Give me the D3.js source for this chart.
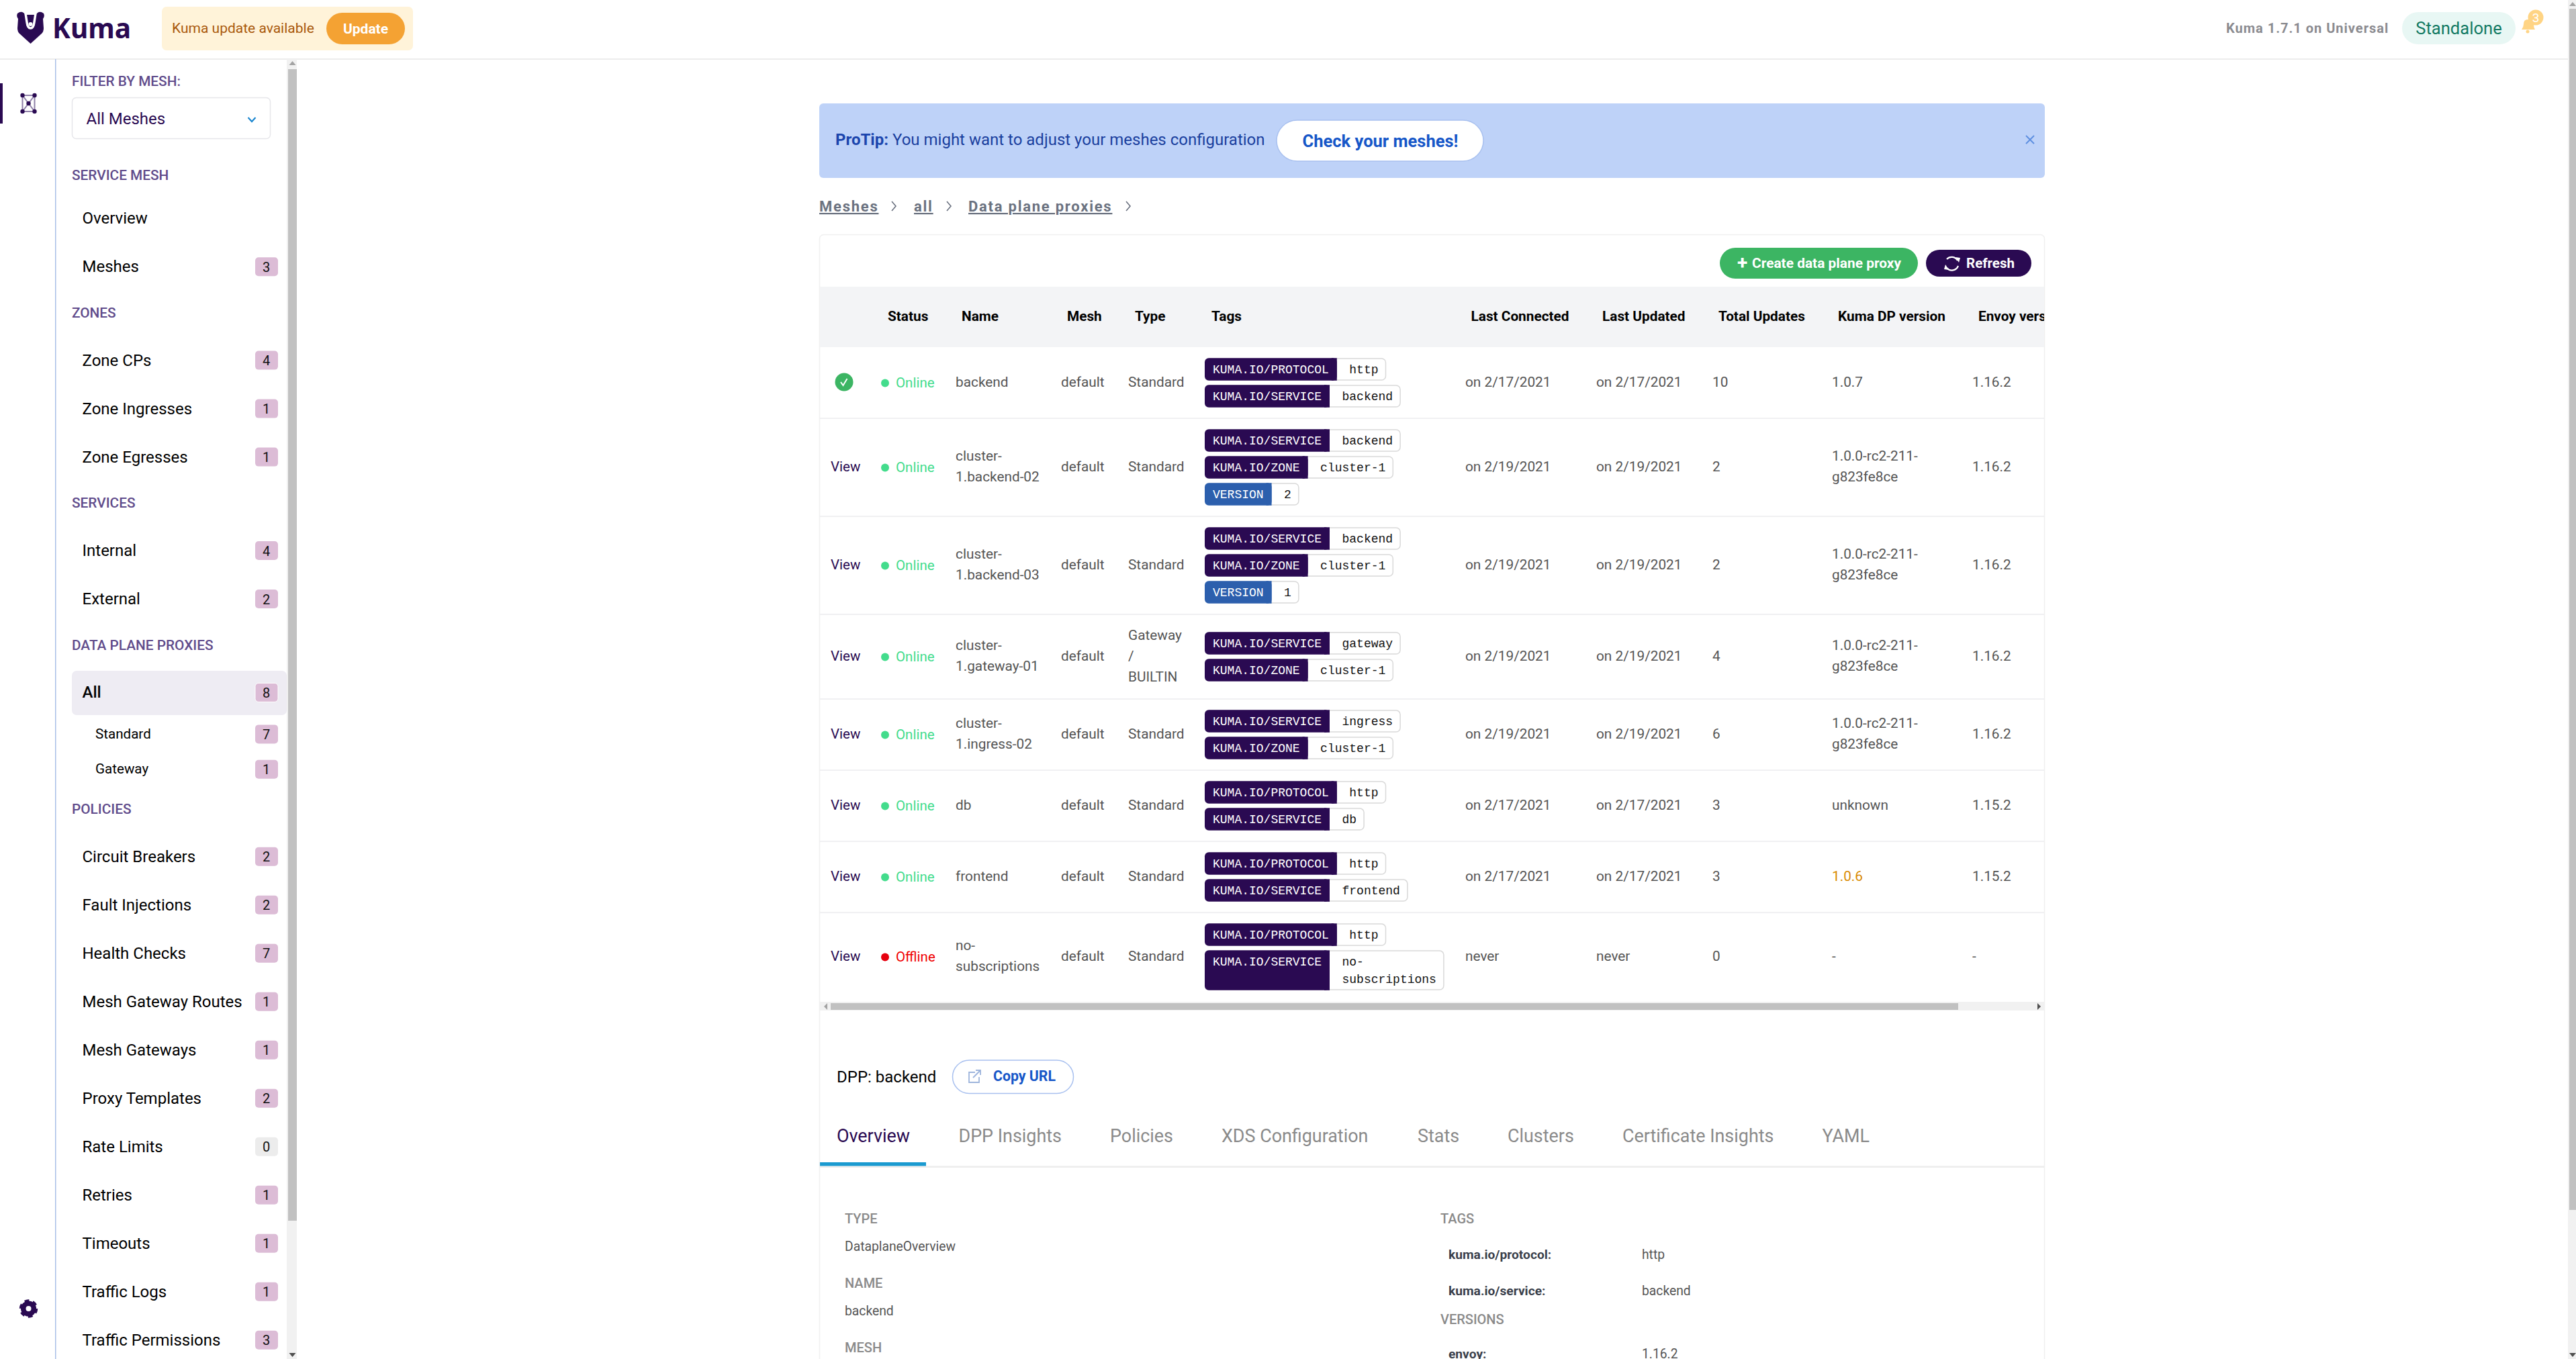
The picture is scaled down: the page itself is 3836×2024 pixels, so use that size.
<!DOCTYPE html>
<html>
<head>
<meta charset="utf-8">
<script src="https://cdnjs.cloudflare.com/ajax/libs/d3/7.8.5/d3.min.js"></script>
<style>
html,body{margin:0;padding:0;background:#fff;overflow:hidden}
svg{display:block}
text{font-family:Roboto,sans-serif;white-space:pre}
</style>
</head>
<body>
<div id="chart"></div>
<script>
// ---------- data ----------
const navLabels = ["SERVICE MESH","Overview","Meshes","ZONES","Zone CPs","Zone Ingresses","Zone Egresses","SERVICES","Internal","External","DATA PLANE PROXIES","All","Standard","Gateway","POLICIES","Circuit Breakers","Fault Injections","Health Checks","Mesh Gateway Routes","Mesh Gateways","Proxy Templates","Rate Limits","Retries","Timeouts","Traffic Logs","Traffic Permissions"];
const navKinds = ["section","item","item","section","item","item","item","section","item","item","section","item","sub","sub","section","item","item","item","item","item","item","item","item","item","item","item"];
const navCounts = [null,null,3,null,4,1,1,null,4,2,null,8,7,1,null,2,2,7,1,1,2,0,1,1,1,3];

const colHeaders = ["Status","Name","Mesh","Type","Tags","Last Connected","Last Updated","Total Updates","Kuma DP version","Envoy version"];
const rowActions = ["check","View","View","View","View","View","View","View"];
const rowStatus = ["Online","Online","Online","Online","Online","Online","Online","Offline"];
const rowNames = [["backend"],["cluster-","1.backend-02"],["cluster-","1.backend-03"],["cluster-","1.gateway-01"],["cluster-","1.ingress-02"],["db"],["frontend"],["no-","subscriptions"]];
const rowMesh = ["default","default","default","default","default","default","default","default"];
const rowTypes = [["Standard"],["Standard"],["Standard"],["Gateway","/","BUILTIN"],["Standard"],["Standard"],["Standard"],["Standard"]];
const rowTags = [
  [["KUMA.IO/PROTOCOL",["http"]],["KUMA.IO/SERVICE",["backend"]]],
  [["KUMA.IO/SERVICE",["backend"]],["KUMA.IO/ZONE",["cluster-1"]],["VERSION",["2"]]],
  [["KUMA.IO/SERVICE",["backend"]],["KUMA.IO/ZONE",["cluster-1"]],["VERSION",["1"]]],
  [["KUMA.IO/SERVICE",["gateway"]],["KUMA.IO/ZONE",["cluster-1"]]],
  [["KUMA.IO/SERVICE",["ingress"]],["KUMA.IO/ZONE",["cluster-1"]]],
  [["KUMA.IO/PROTOCOL",["http"]],["KUMA.IO/SERVICE",["db"]]],
  [["KUMA.IO/PROTOCOL",["http"]],["KUMA.IO/SERVICE",["frontend"]]],
  [["KUMA.IO/PROTOCOL",["http"]],["KUMA.IO/SERVICE",["no-","subscriptions"]]]
];
const rowConnected = ["on 2/17/2021","on 2/19/2021","on 2/19/2021","on 2/19/2021","on 2/19/2021","on 2/17/2021","on 2/17/2021","never"];
const rowUpdated = ["on 2/17/2021","on 2/19/2021","on 2/19/2021","on 2/19/2021","on 2/19/2021","on 2/17/2021","on 2/17/2021","never"];
const rowTotals = ["10","2","2","4","6","3","3","0"];
const rowKuma = [["1.0.7"],["1.0.0-rc2-211-","g823fe8ce"],["1.0.0-rc2-211-","g823fe8ce"],["1.0.0-rc2-211-","g823fe8ce"],["1.0.0-rc2-211-","g823fe8ce"],["unknown"],["1.0.6"],["-"]];
const rowEnvoy = ["1.16.2","1.16.2","1.16.2","1.16.2","1.16.2","1.15.2","1.15.2","-"];
const tabLabels = ["Overview","DPP Insights","Policies","XDS Configuration","Stats","Clusters","Certificate Insights","YAML"];
const breadcrumbs = ["Meshes","all","Data plane proxies"];

// ---------- layout ----------
const W = 3836, H = 2024;
const PURPLE = "#2a0a52";
const svg = d3.select("#chart").append("svg").attr("width",W).attr("height",H).attr("viewBox",`0 0 ${W} ${H}`);
const defs = svg.append("defs");
defs.append("clipPath").attr("id","panelClip").append("rect").attr("x",1221).attr("y",340).attr("width",1823).attr("height",1684);

function txt(g,x,y,s,o={}){
  const n = g.append("text").attr("x",x).attr("y",y).text(s)
    .attr("font-size",o.size||20.8).attr("fill",o.fill||"#555")
    .attr("font-weight",o.weight||400);
  if(o.anchor) n.attr("text-anchor",o.anchor);
  if(o.family) n.style("font-family",o.family);
  if(o.spacing) n.attr("letter-spacing",o.spacing);
  if(o.underline) n.attr("text-decoration","underline");
  return n;
}
function box(g,x,y,w,h,o={}){
  return g.append("rect").attr("x",x).attr("y",y).attr("width",w).attr("height",h)
    .attr("rx",o.r||0).attr("fill",o.fill||"none")
    .attr("stroke",o.stroke||"none").attr("stroke-width",o.sw||0);
}
function scrollbarV(g,x,w,y0,y1,t0,t1){
  box(g,x,y0,w,y1-y0,{fill:"#f1f1f1"});
  box(g,x+2,t0,w-2,t1-t0,{fill:"#c1c1c1"});
  const c=x+w/2+1;
  g.append("path").attr("fill","#a3a3a3").attr("d",`M${c-5} ${y0+9}L${c} ${y0+3}L${c+5} ${y0+9}Z`);
  g.append("path").attr("fill","#505050").attr("d",`M${c-5} ${y1-9}L${c} ${y1-3}L${c+5} ${y1-9}Z`);
}

// ---------- header ----------
const head = svg.append("g");
box(head,0,87,W,2,{fill:"#ececec"});
head.append("path").attr("fill",PURPLE).attr("fill-rule","evenodd")
  .attr("d","M26 20Q31 16 35 19L38 22L53 22L56 19Q60 16 65 20Q67 24 64 28L65 42Q65 47 62 50L45.5 65L29 50Q26 47 26 42L27 28Q24 24 26 20Z");
head.append("path").attr("fill","none").attr("stroke","#fff").attr("stroke-width",3.5).attr("d","M38 20L40 33Q41 42 45.5 42Q50 42 51 33L53 20");
head.append("circle").attr("cx",45.5).attr("cy",36).attr("r",3).attr("fill","#fff");
txt(head,78,56.5,"Kuma",{size:40.5,weight:700,fill:PURPLE,family:"'Noto Sans',sans-serif"});
box(head,241,10,374,65,{fill:"#fff3d9",r:7});
txt(head,256,49,"Kuma update available",{size:21,fill:"#a9590c"});
box(head,486,19,117,47,{fill:"#f4a233",r:23.5});
txt(head,544.5,49.5,"Update",{size:21,fill:"#fff",weight:700,anchor:"middle"});
txt(head,3315,49,"Kuma 1.7.1 on Universal",{size:20,fill:"#8b8b90",weight:700,spacing:1});
box(head,3577,18,169,48,{fill:"#e8f7f4",r:24});
txt(head,3661.5,51,"Standalone",{size:25.6,fill:"#137a63",anchor:"middle"});
head.append("path").attr("fill","#ffd484").attr("d","M3755 44Q3758 40 3758 36Q3758 29 3764 29Q3773 29 3773 37Q3773 41 3775 44Z");
head.append("circle").attr("cx",3764).attr("cy",47).attr("r",2.5).attr("fill","#ffd484");
head.append("circle").attr("cx",3776).attr("cy",26).attr("r",11.5).attr("fill","#ffd484");
txt(head,3776,33,"3",{size:19,fill:"#fff",anchor:"middle"});
scrollbarV(head,3824,12,0,H,13,1802);

// ---------- left rail ----------
const rail = svg.append("g");
box(rail,82,88,1.5,H-88,{fill:"#a9bfe8"});
box(rail,0,124,4,60,{fill:PURPLE});
const meshPts = d3.cross([-9,9],[-12,12]).map(([a,b])=>[42.5+a,154+b]);
rail.selectAll("line.m").data(meshPts).join("line").attr("x1",42.5).attr("y1",154).attr("x2",d=>d[0]).attr("y2",d=>d[1]).attr("stroke","#8f80a8").attr("stroke-width",2);
rail.append("rect").attr("x",33.5).attr("y",142).attr("width",18).attr("height",24).attr("fill","none").attr("stroke","#8f80a8").attr("stroke-width",2);
rail.selectAll("circle.m").data(meshPts.concat([[42.5,154]])).join("circle").attr("cx",d=>d[0]).attr("cy",d=>d[1]).attr("r",3.2).attr("fill",PURPLE);
const gearY=1949;
rail.append("circle").attr("cx",42.5).attr("cy",gearY).attr("r",11.5).attr("fill",PURPLE);
rail.append("circle").attr("cx",42.5).attr("cy",gearY).attr("r",11.5).attr("fill","none").attr("stroke",PURPLE).attr("stroke-width",4.5).attr("stroke-dasharray","6.5 5.54");
rail.append("circle").attr("cx",42.5).attr("cy",gearY).attr("r",4).attr("fill","#fff");

// ---------- sidebar ----------
const side = svg.append("g");
const SEC=20.8;
txt(side,107,128,"FILTER BY MESH:",{size:SEC,weight:500,fill:"#5f4b8b"});
box(side,107.5,145.5,295,61,{fill:"#fff",stroke:"#e6e6ea",sw:1.5,r:6});
txt(side,128.5,185,"All Meshes",{size:24,fill:PURPLE});
side.append("path").attr("fill","none").attr("stroke","#1e88d0").attr("stroke-width",2.2).attr("d","M369.5 175L375 181L380.5 175");

const gapAfter = {"section>item":70.7,"item>item":72,"item>section":68.7,"item>sub":62,"sub>sub":52.3,"sub>section":59.4};
let navY=[260.7];
navKinds.slice(1).forEach((k,i)=>{
  const p = navKinds[i];
  const gap = i===0 ? 64.5 : gapAfter[p+">"+k];
  navY.push(navY[i]+gap);
});
const navData = navLabels.map((label,i)=>({label,kind:navKinds[i],count:navCounts[i],y:navY[i]}));
box(side,107,999,320,66,{fill:"#eeecf3",r:7});
const navG = side.selectAll("g.nav").data(navData).join("g").attr("class","nav");
navG.each(function(d){
  const g=d3.select(this);
  if(d.kind==="section"){ txt(g,107,d.y+7,d.label,{size:SEC,weight:500,fill:"#5f4b8b"}); return; }
  const sub=d.kind==="sub", active=d.label==="All";
  txt(g,sub?142:122.5,d.y+(sub?6.5:8),d.label,{size:sub?20.6:24,fill:"#000",weight:active?500:400});
  if(d.count!==null){
    box(g,380,d.y-14,34,28,{fill:d.count===0?"#ececec":"#dcbcd6",r:5,stroke:active?"#fff":"none",sw:active?1:0});
    txt(g,396.5,d.y+7.5,String(d.count),{size:20,fill:"#111",anchor:"middle"});
  }
});
scrollbarV(side,427,15,88,H,103,1818);

// ---------- protip ----------
const main = svg.append("g");
box(main,1220,154,1825,111,{fill:"#bed2f8",r:6});
txt(main,1244,216,"ProTip:",{size:24,weight:700,fill:"#1b45ad"});
txt(main,1329,216,"You might want to adjust your meshes configuration",{size:24,fill:"#1a3f9e"});
box(main,1901,179,308,61,{fill:"#fff",stroke:"#a8c0ef",sw:1.5,r:30.5});
txt(main,2055.5,219,"Check your meshes!",{size:25.5,weight:700,fill:"#1556c8",anchor:"middle"});
main.append("path").attr("fill","none").attr("stroke","#5b8de0").attr("stroke-width",1.8).attr("d","M3017 202L3029 214M3029 202L3017 214");

// breadcrumbs
const crumbX=[1220,1361,1442], chevX=[1331,1413,1680];
main.selectAll("text.crumb").data(breadcrumbs).join("text").attr("class","crumb")
  .attr("x",(d,i)=>crumbX[i]).attr("y",315).text(d=>d)
  .attr("font-size",22).attr("font-weight",700).attr("letter-spacing",1.75).attr("fill","#6b7280").attr("text-decoration","underline");
main.selectAll("path.chev").data(chevX).join("path").attr("class","chev")
  .attr("fill","none").attr("stroke","#6b7280").attr("stroke-width",1.6)
  .attr("d",d=>`M${d-3} 300L${d+3} 307L${d-3} 314`);

// panel
box(main,1220.5,349.5,1824,1700,{fill:"none",stroke:"#f0f0f0",sw:1.5,r:6});
box(main,2561,369,295,46,{fill:"#3cb563",r:23});
txt(main,2587,399,"+",{size:28,weight:700,fill:"#fff"}).attr("dy",2);
txt(main,2609,399,"Create data plane proxy",{size:20.9,weight:700,fill:"#fff"});
box(main,2868,372,157,40,{fill:PURPLE,r:20});
main.append("path").attr("fill","none").attr("stroke","#fff").attr("stroke-width",2.2)
  .attr("d","M2899 386A10 10 0 0 1 2915 388M2916 396A10 10 0 0 1 2899 399");
main.append("path").attr("fill","#fff").attr("d","M2912 383L2919 384L2917 391ZM2902 402L2895 401L2897 394Z");
txt(main,2928,399,"Refresh",{size:20.5,weight:700,fill:"#fff"});

// ---------- table ----------
const table = main.append("g").attr("clip-path","url(#panelClip)");
box(table,1221,427,1823,90,{fill:"#f3f4f6"});
const headX=[1322,1432,1589,1690,1804,2190.5,2386,2559,2737,2946];
table.selectAll("text.h").data(colHeaders).join("text").attr("class","h")
  .attr("x",(d,i)=>headX[i]).attr("y",478).text(d=>d)
  .attr("font-size",20.8).attr("font-weight",700).attr("fill","#000");

const PILL=33.5, PGAP=6.5, LINE=31.2, VLINE=26, PAD=32.5, CH=10.8;
const tagH=t=>PILL+(t[1].length-1)*VLINE;
const rows = rowNames.map((n,i)=>{
  const th=d3.sum(rowTags[i],tagH)+PGAP*(rowTags[i].length-1);
  const lines=Math.max(n.length,rowTypes[i].length,rowKuma[i].length);
  return {i,th,h:Math.max(th,lines*LINE)+PAD};
});
let yAcc=517; rows.forEach(r=>{r.top=yAcc; yAcc+=r.h; r.c=r.top+r.h/2;});

const colX={view:1237,dot:1318,status:1334,name:1423,mesh:1580,type:1680,tags:1794,conn:2182,upd:2377,total:2550,kuma:2728,envoy:2937};
const BASE=5.7;
const ONLINE="#43dc8c";
const rowG = table.selectAll("g.row").data(rows).join("g").attr("class","row");
function multi(g,x,c,lines,o={}){
  lines.forEach((l,k)=>txt(g,x,c+BASE+(k-(lines.length-1)/2)*LINE,l,o));
}
rowG.each(function(r){
  const g=d3.select(this), i=r.i;
  if(i<rows.length-1) box(g,1221,r.top+r.h-1,1823,2,{fill:"#f0f0f2"});
  if(rowActions[i]==="check"){
    g.append("circle").attr("cx",1257).attr("cy",r.c-1).attr("r",13.5).attr("fill","#3cb563");
    g.append("path").attr("fill","none").attr("stroke","#fff").attr("stroke-width",2).attr("d",`M${1252} ${r.c-1}l3.5 5l6 -10`);
  } else txt(g,colX.view,r.c+BASE,rowActions[i],{fill:PURPLE,size:20.5});
  const on=rowStatus[i]==="Online";
  g.append("circle").attr("cx",colX.dot).attr("cy",r.c+.5).attr("r",6).attr("fill",on?ONLINE:"#e6000f");
  txt(g,colX.status,r.c+7,rowStatus[i],{fill:on?ONLINE:"#f00000",size:20.5});
  multi(g,colX.name,r.c,rowNames[i]);
  txt(g,colX.mesh,r.c+BASE,rowMesh[i]);
  multi(g,colX.type,r.c,rowTypes[i]);
  txt(g,colX.conn,r.c+BASE,rowConnected[i]);
  txt(g,colX.upd,r.c+BASE,rowUpdated[i]);
  txt(g,colX.total,r.c+BASE,rowTotals[i]);
  multi(g,colX.kuma,r.c,rowKuma[i],{fill:rowKuma[i][0]==="1.0.6"?"#d98a00":"#555"});
  txt(g,colX.envoy,r.c+BASE,rowEnvoy[i]);
  // tags, stacked and centred in the row
  let ty=r.c-r.th/2;
  rowTags[i].forEach(([k,v])=>{
    const h=tagH([k,v]), kw=24+CH*k.length, vw=30.5+CH*d3.max(v,s=>s.length), x=colX.tags;
    const isV=k==="VERSION";
    box(g,x+kw-6,ty+.75,vw+5,h-1.5,{fill:"#fff",stroke:"#d9d9d9",sw:1.5,r:6});
    box(g,x,ty,kw,h,{fill:isV?"#2c5fad":PURPLE,r:6});
    box(g,x+kw-8,ty,8,h,{fill:isV?"#2c5fad":PURPLE});
    const tf={size:18,family:"'Liberation Mono',monospace"};
    txt(g,x+12,ty+22.5,k,{...tf,fill:"#fff"});
    v.forEach((s,j)=>txt(g,x+kw+18.5,ty+22.5+j*VLINE,s,{...tf,fill:"#111"}));
    ty+=h+PGAP;
  });
});

// horizontal scrollbar
const hb = main.append("g");
box(hb,1221,1492,1823,13,{fill:"#f1f1f1"});
box(hb,1237,1494,1679,10,{fill:"#c1c1c1"});
hb.append("path").attr("fill","#a3a3a3").attr("d","M1232 1494L1227 1499L1232 1504Z");
hb.append("path").attr("fill","#505050").attr("d","M3034 1494L3039 1499L3034 1504Z");

// ---------- details ----------
const det = main.append("g");
txt(det,1246,1611.5,"DPP: backend",{size:24,fill:"#000"});
box(det,1418.5,1579,180,49.5,{fill:"#fff",stroke:"#a8c0ef",sw:1.5,r:24.7});
det.append("path").attr("fill","none").attr("stroke","#9db4dc").attr("stroke-width",1.8)
  .attr("d","M1452 1597H1443V1612H1458V1604M1449 1605L1460 1594M1453 1594H1460V1601");
txt(det,1479,1610,"Copy URL",{size:21.3,weight:700,fill:"#1556c8"});
const tabX=[1246,1427.5,1653,1819,2111,2245,2416,2713.5];
det.selectAll("text.tab").data(tabLabels).join("text").attr("class","tab")
  .attr("x",(d,i)=>tabX[i]).attr("y",1701).text(d=>d)
  .attr("font-size",26.9).attr("fill",(d,i)=>i===0?PURPLE:"#8a8a8a");
box(det,1221,1736.5,1823,2.5,{fill:"#ececec"});
box(det,1221,1731,158,5.5,{fill:"#1a9ad0"});
const lab={size:20,weight:500,fill:"#8a8a8a"}, val={size:19.3,fill:"#555"}, key={size:19.2,weight:700,fill:"#3a3f4b"};
txt(det,1258,1822,"TYPE",lab); txt(det,1258,1863,"DataplaneOverview",val);
txt(det,1258,1918,"NAME",lab); txt(det,1258,1959,"backend",val);
txt(det,1258,2014,"MESH",lab);
txt(det,2145,1822,"TAGS",lab);
txt(det,2157,1875,"kuma.io/protocol:",key); txt(det,2445,1875,"http",val);
txt(det,2157,1929,"kuma.io/service:",key); txt(det,2445,1929,"backend",val);
txt(det,2145,1972,"VERSIONS",lab);
txt(det,2157,2023,"envoy:",key); txt(det,2445,2023,"1.16.2",val);
</script>
</body>
</html>
